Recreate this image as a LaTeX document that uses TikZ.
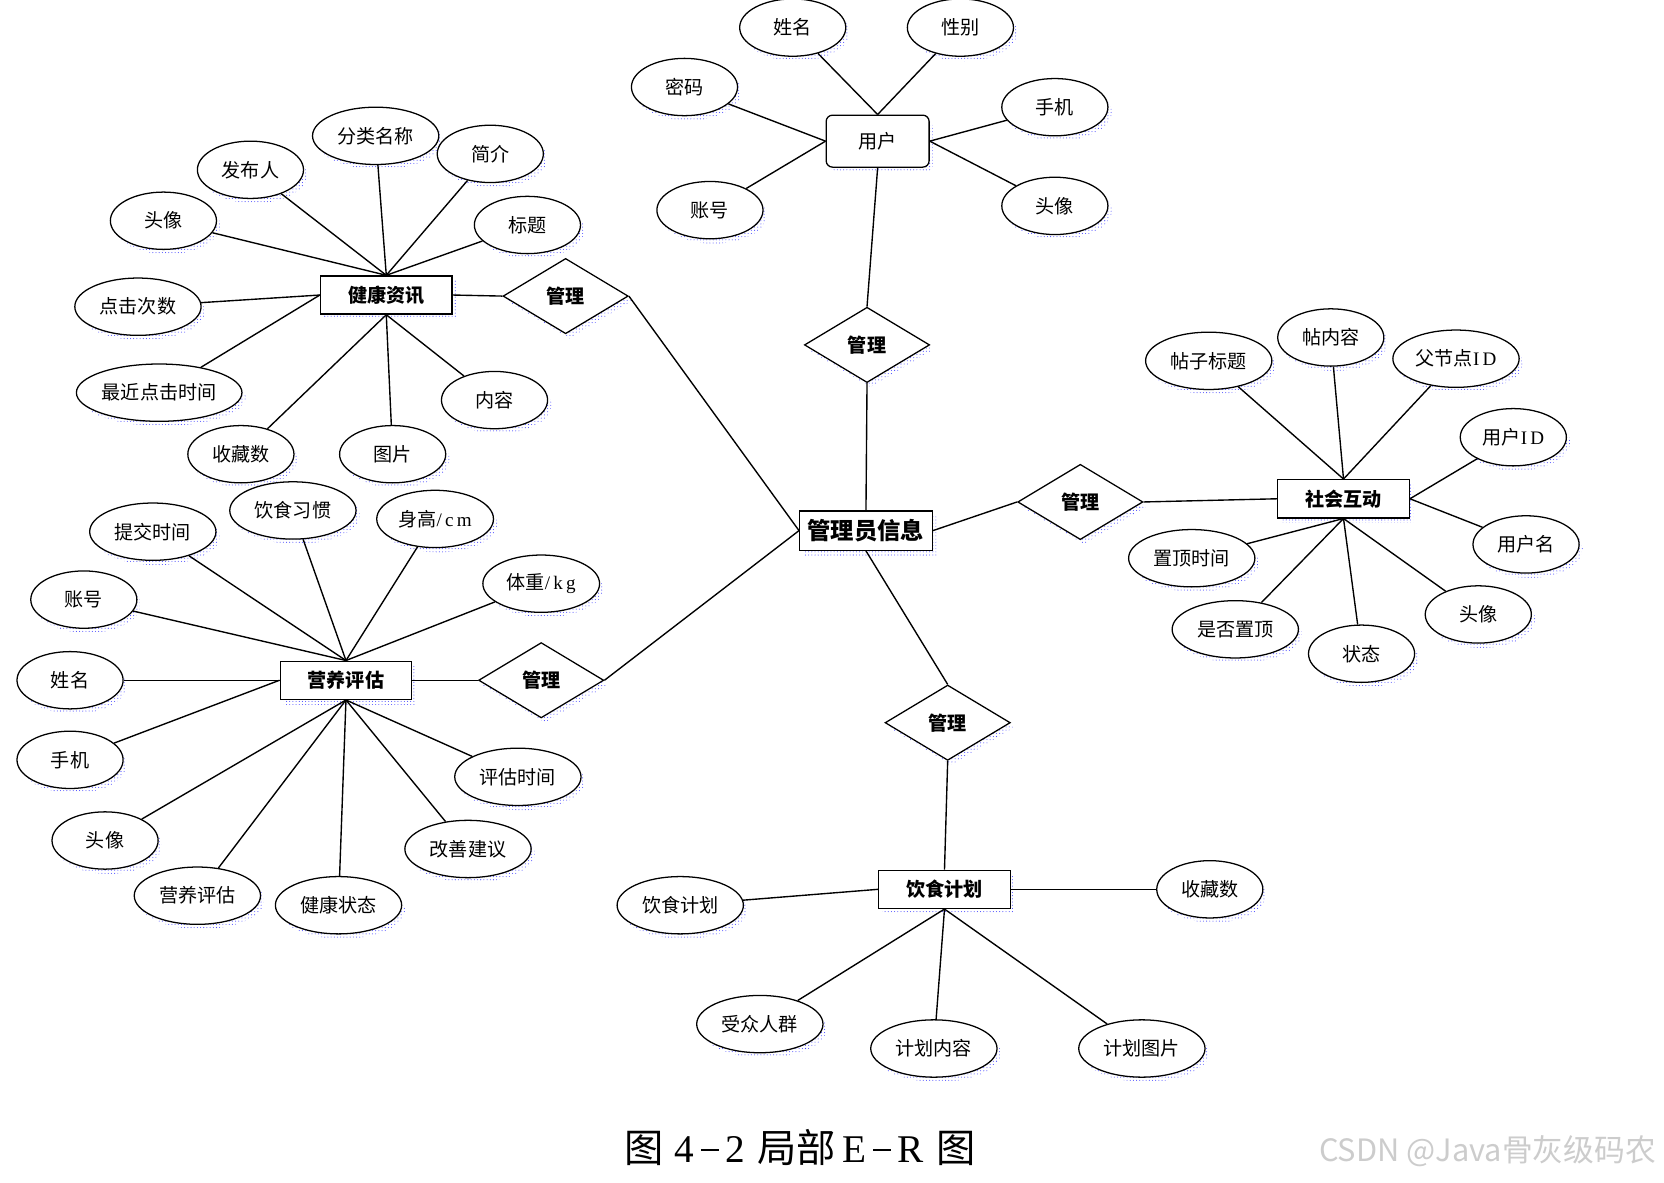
\documentclass[tikz,border=0pt]{standalone}
\usepackage{fontspec}
\setmainfont{Liberation Serif}
\newfontfamily\cjk{Noto Sans CJK SC}
\usetikzlibrary{shapes.geometric,shadows,patterns}
\tikzset{>=stealth}

\begin{document}
\begin{tikzpicture}[x=1pt, y=-1pt,
		dotshadow/.style={general shadow={shadow xshift=3.5pt, shadow yshift=-4.5pt,
			pattern=dots, pattern color=blue!70}},
		attr/.style={draw, ellipse, fill=white, line width=1.2pt,
			minimum width=100pt, minimum height=54pt, inner sep=0pt,
			font=\cjk\fontsize{18}{20}\selectfont, dotshadow},
		wide/.style={minimum width=119pt},
		ent/.style={draw, rectangle, fill=white, line width=1.2pt,
			minimum width=124pt, minimum height=36pt, inner sep=0pt,
			font=\cjk\bfseries\fontsize{18}{20}\selectfont, dotshadow},
		rel/.style={draw, diamond, fill=white, line width=1.2pt,
			minimum width=118pt, minimum height=71pt, inner sep=0pt,
			font=\cjk\bfseries\fontsize{18}{20}\selectfont, dotshadow},
		link/.style={draw, line width=1.3pt}]
		\useasboundingbox (0,0) rectangle (1568,1114);
		%% User
		\node [ent, rounded corners=6pt, minimum width=97pt, minimum height=49pt,
			font=\cjk\fontsize{18}{20}\selectfont] at (827,133) (user) {用户};
		\node [attr] at (747,26) (uname) {姓名};
		\node [attr] at (905,26) (usex) {性别};
		\node [attr] at (645,82) (upwd) {密码};
		\node [attr] at (994,101) (uphone) {手机};
		\node [attr] at (669,198) (uacct) {账号};
		\node [attr] at (994,194) (uavatar) {头像};
		%% Health news
		\node [ent] at (364,278) (news) {健康资讯};
		\node [attr, wide] at (354,128) (ncat) {分类名称};
		\node [attr] at (236,160) (npub) {发布人};
		\node [attr] at (462,145) (nintro) {简介};
		\node [attr] at (154,208) (navatar) {头像};
		\node [attr] at (497,212) (ntitle) {标题};
		\node [attr, wide] at (130,289) (nclick) {点击次数};
		\node [attr, minimum width=156pt] at (150,370) (nlast) {最近点击时间};
		\node [attr] at (227,428) (nfav) {收藏数};
		\node [attr] at (370,428) (npic) {图片};
		\node [attr] at (466,377) (ntext) {内容};
		%% Nutrition evaluation
		\node [ent] at (326,641) (eval) {营养评估};
		\node [attr, wide] at (144,501) (esubmit) {提交时间};
		\node [attr, wide] at (276,481) (ehabit) {饮食习惯};
		\node [attr, minimum width=110pt] at (410,489) (eheight) {身高{\rmfamily /\,c\,m}};
		\node [attr, minimum width=110pt] at (510,550) (eweight) {体重{\rmfamily /\,k\,g}};
		\node [attr] at (79,565) (eacct) {账号};
		\node [attr] at (66,641) (ename) {姓名};
		\node [attr] at (66,716) (ephone) {手机};
		\node [attr] at (99,792) (eavatar) {头像};
		\node [attr, wide] at (186,844) (eresult) {营养评估};
		\node [attr, wide] at (319,853) (estate) {健康状态};
		\node [attr, wide] at (441,800) (eadvice) {改善建议};
		\node [attr, wide] at (488,732) (etime) {评估时间};
		%% Admin
		\node [ent, minimum width=125pt, minimum height=37pt,
			font=\cjk\bfseries\fontsize{22}{24}\selectfont] at (816,500) (admin) {管理员信息};
		%% Social posts
		\node [ent] at (1266,470) (post) {社会互动};
		\node [attr, wide] at (1139,340) (ptitle) {帖子标题};
		\node [attr] at (1254,318) (ptext) {帖内容};
		\node [attr, wide] at (1372,338) (pparent) {父节点{\rmfamily I\,D}};
		\node [attr] at (1426,412) (puid) {用户{\rmfamily I\,D}};
		\node [attr] at (1438,513) (puname) {用户名};
		\node [attr] at (1393,579) (pavatar) {头像};
		\node [attr] at (1283,616) (pstate) {状态};
		\node [attr, wide] at (1164,593) (ptop) {是否置顶};
		\node [attr, wide] at (1123,526) (ptoptime) {置顶时间};
		%% Diet plan
		\node [ent] at (890,838) (diet) {饮食计划};
		\node [attr, wide] at (641,853) (dname) {饮食计划};
		\node [attr] at (1140,838) (dfav) {收藏数};
		\node [attr, wide] at (716,965) (daud) {受众人群};
		\node [attr, wide] at (880,988) (dtext) {计划内容};
		\node [attr, wide] at (1076,988) (dpic) {计划图片};
		%% Relations
		\node [rel] at (533,279) (mnews) {管理};
		\node [rel] at (817,325) (muser) {管理};
		\node [rel] at (1018,473) (mpost) {管理};
		\node [rel] at (510,641) (meval) {管理};
		\node [rel] at (893,681) (mdiet) {管理};
		%% Caption
		\node [font=\cjk\fontsize{37}{40}\selectfont] at (754,1081) (caption)
			{图\hspace{10pt}{\rmfamily 4\,\rule[0.28em]{0.45em}{0.06em}\,2}\kern12pt 局部\kern6pt{\rmfamily E\,\rule[0.28em]{0.45em}{0.06em}\,R}\hspace{12pt}图};
		\node [anchor=east, text=gray!40, font=\cjk\fontsize{29}{32}\selectfont]
			at (1564,1085) (mark) {CSDN @Java骨灰级码农};
		%% Links
		\path [link] (user.south) to (muser.north);
		\path [link] (muser.south) to (admin.north);
		\path [link] (news.east) to (mnews.west);
		\path [link] (mnews.east) to (admin.west);
		\path [link] (eval.east) to (meval.west);
		\path [link] (meval.east) to (admin.west);
		\path [link] (admin.east) to (mpost.west);
		\path [link] (mpost.east) to (post.west);
		\path [link] (admin.south) to (mdiet.north);
		\path [link] (mdiet.south) to (diet.north);
		%% User attributes
		\path [link] (user.north) to (uname);
		\path [link] (user.north) to (usex);
		\path [link] (user.west) to (upwd);
		\path [link] (user.west) to (uacct);
		\path [link] (user.east) to (uphone);
		\path [link] (user.east) to (uavatar);
		%% News attributes
		\path [link] (news.north) to (ncat);
		\path [link] (news.north) to (npub);
		\path [link] (news.north) to (nintro);
		\path [link] (news.north) to (navatar);
		\path [link] (news.north) to (ntitle);
		\path [link] (news.west) to (nclick);
		\path [link] (news.west) to (nlast);
		\path [link] (news.south) to (nfav);
		\path [link] (news.south) to (npic);
		\path [link] (news.south) to (ntext);
		%% Evaluation attributes
		\path [link] (eval.north) to (esubmit);
		\path [link] (eval.north) to (ehabit);
		\path [link] (eval.north) to (eheight);
		\path [link] (eval.north) to (eweight);
		\path [link] (eval.north) to (eacct);
		\path [link] (eval.west) to (ename);
		\path [link] (eval.west) to (ephone);
		\path [link] (eval.south) to (eavatar);
		\path [link] (eval.south) to (eresult);
		\path [link] (eval.south) to (estate);
		\path [link] (eval.south) to (eadvice);
		\path [link] (eval.south) to (etime);
		%% Post attributes
		\path [link] (post.north) to (ptitle);
		\path [link] (post.north) to (ptext);
		\path [link] (post.north) to (pparent);
		\path [link] (post.east) to (puid);
		\path [link] (post.east) to (puname);
		\path [link] (post.south) to (pavatar);
		\path [link] (post.south) to (pstate);
		\path [link] (post.south) to (ptop);
		\path [link] (post.south) to (ptoptime);
		%% Diet attributes
		\path [link] (diet.west) to (dname);
		\path [link] (diet.east) to (dfav);
		\path [link] (diet.south) to (daud);
		\path [link] (diet.south) to (dtext);
		\path [link] (diet.south) to (dpic);
\end{tikzpicture}
\end{document}
